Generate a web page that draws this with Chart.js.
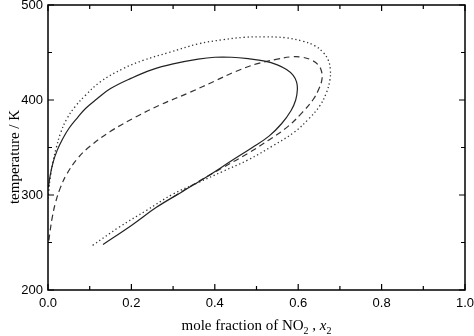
<!DOCTYPE html>
<html>
<head>
<meta charset="utf-8">
<script src="https://cdn.jsdelivr.net/npm/chart.js@4.4.0/dist/chart.umd.min.js"></script>
<style>
  html, body { margin: 0; padding: 0; background: #fff; }
  #wrap { width: 474px; height: 336px; }
</style>
</head>
<body>
<div id="wrap"><canvas id="myChart" width="474" height="336"></canvas></div>
<script>
// phase envelopes, mole fraction x2 vs temperature (K)
const solidX = [0.132, 0.20, 0.26, 0.32, 0.38, 0.44, 0.49, 0.53, 0.56, 0.583, 0.594, 0.598, 0.596, 0.588, 0.572, 0.55, 0.52, 0.48, 0.44, 0.40, 0.36, 0.30, 0.25, 0.20, 0.15, 0.117, 0.09, 0.07, 0.05, 0.035, 0.022, 0.012, 0.005, 0.001];
const solidT = [248, 268, 287, 303, 319, 336, 350, 362, 375, 389, 400, 411, 419, 426, 432, 437, 441, 443.5, 445, 445, 443, 438, 432, 423, 412, 401, 391, 381, 370, 359, 347, 334, 320, 308];

const dashX = [0.30, 0.36, 0.42, 0.48, 0.53, 0.575, 0.61, 0.635, 0.65, 0.657, 0.656, 0.648, 0.632, 0.61, 0.585, 0.55, 0.50, 0.45, 0.40, 0.34, 0.27, 0.21, 0.15, 0.10, 0.07, 0.045, 0.03, 0.018, 0.01, 0.005, 0.002];
const dashT = [298, 314, 329, 344, 358, 372, 387, 400, 412, 422, 430, 437, 442, 445, 445.5, 443, 438, 430, 420, 408, 395, 382, 367, 351, 338, 322, 308, 292, 276, 262, 252];

const dotX = [0.107, 0.17, 0.237, 0.30, 0.36, 0.42, 0.48, 0.54, 0.59, 0.625, 0.652, 0.668, 0.676, 0.677, 0.672, 0.66, 0.64, 0.61, 0.57, 0.52, 0.47, 0.42, 0.36, 0.29, 0.23, 0.18, 0.125, 0.09, 0.065, 0.045, 0.03, 0.02, 0.012, 0.006, 0.002, 0.0];
const dotT = [247, 266, 284, 301, 313, 325, 337, 352, 366, 380, 394, 408, 421, 432, 442, 450, 457, 462, 465.5, 466.5, 466, 463.5, 459, 450, 442, 433, 419, 405, 393, 380, 365, 350, 335, 320, 305, 295];

const xMajor = [0, 0.2, 0.4, 0.6, 0.8, 1.0];
const xMinor = [0.1, 0.3, 0.5, 0.7, 0.9];
const yMajor = [200, 300, 400, 500];
const yMinor = [250, 350, 450];

function pts(xs, ys) {
    return xs.map((v, i) => ({ x: v, y: ys[i] }));
}

// frame, inward ticks on all sides, and the two axis titles
const framePlugin = {
    id: 'frame',
    afterDraw(chart) {
        const ctx = chart.ctx;
        const { left, right, top, bottom } = chart.chartArea;
        const sx = chart.scales.x, sy = chart.scales.y;
        ctx.save();
        ctx.strokeStyle = '#000';
        ctx.lineWidth = 1.5;
        ctx.strokeRect(left, top, right - left, bottom - top);
        ctx.lineWidth = 1.2;
        ctx.beginPath();
        const tick = (vals, len) => {
            vals.forEach(v => {
                const px = sx.getPixelForValue(v);
                ctx.moveTo(px, bottom); ctx.lineTo(px, bottom - len);
                ctx.moveTo(px, top); ctx.lineTo(px, top + len);
            });
        };
        const ytick = (vals, len) => {
            vals.forEach(v => {
                const py = sy.getPixelForValue(v);
                ctx.moveTo(left, py); ctx.lineTo(left + len, py);
                ctx.moveTo(right, py); ctx.lineTo(right - len, py);
            });
        };
        tick(xMajor, 6); tick(xMinor, 4);
        ytick(yMajor, 6); ytick(yMinor, 4);
        ctx.stroke();

        // y title
        ctx.fillStyle = '#000';
        ctx.font = '15px "Liberation Serif", "Times New Roman", serif';
        ctx.textAlign = 'center';
        ctx.textBaseline = 'middle';
        ctx.save();
        ctx.translate(15, 157);
        ctx.rotate(-Math.PI / 2);
        ctx.fillText('temperature / K', 0, 0);
        ctx.restore();

        // x title with subscripts and italic x
        const base = 330;
        const reg = '15px "Liberation Serif", "Times New Roman", serif';
        const ita = 'italic 15px "Liberation Serif", "Times New Roman", serif';
        const sub = '10px "Liberation Serif", "Times New Roman", serif';
        const parts = [
            [reg, 'mole fraction of NO', 0],
            [sub, '2', 4],
            [reg, ' , ', 0],
            [ita, 'x', 0],
            [sub, '2', 4]
        ];
        let w = 0;
        parts.forEach(p => { ctx.font = p[0]; w += ctx.measureText(p[1]).width; });
        let cx = (left + right) / 2 - w / 2;
        ctx.textAlign = 'left';
        ctx.textBaseline = 'alphabetic';
        parts.forEach(p => {
            ctx.font = p[0];
            ctx.fillText(p[1], cx, base + p[2]);
            cx += ctx.measureText(p[1]).width;
        });
        ctx.restore();
    }
};

const tickFont = { family: '"Liberation Sans", Arial, sans-serif', size: 13 };

const ctx = document.getElementById('myChart').getContext('2d');
const chart = new Chart(ctx, {
    type: 'scatter',
    data: {
        datasets: [
            {
                data: pts(solidX, solidT),
                showLine: true,
                borderColor: '#222',
                borderWidth: 1.2,
                pointRadius: 0,
                tension: 0.4
            },
            {
                data: pts(dashX, dashT),
                showLine: true,
                borderColor: '#333',
                borderWidth: 1.2,
                borderDash: [6, 4],
                pointRadius: 0,
                tension: 0.4
            },
            {
                data: pts(dotX, dotT),
                showLine: true,
                borderColor: '#333',
                borderWidth: 1.3,
                borderDash: [1.3, 2.7],
                pointRadius: 0,
                tension: 0.4
            }
        ]
    },
    options: {
        responsive: false,
        animation: false,
        layout: { padding: { left: 0, top: 5, right: 9, bottom: 0 } },
        plugins: {
            legend: { display: false },
            tooltip: { enabled: false }
        },
        scales: {
            x: {
                type: 'linear',
                min: 0,
                max: 1,
                grid: { display: false, drawTicks: false },
                border: { display: false },
                ticks: {
                    stepSize: 0.2,
                    padding: 6,
                    color: '#000',
                    font: tickFont,
                    maxRotation: 0,
                    callback: v => v.toFixed(1)
                },
                afterFit: s => { s.height = 46; s.paddingLeft = 0; s.paddingRight = 0; }
            },
            y: {
                type: 'linear',
                min: 200,
                max: 500,
                grid: { display: false, drawTicks: false },
                border: { display: false },
                ticks: {
                    stepSize: 100,
                    padding: 5,
                    color: '#000',
                    font: tickFont
                },
                afterFit: s => { s.width = 48; s.paddingTop = 0; s.paddingBottom = 0; }
            }
        }
    },
    plugins: [framePlugin]
});
</script>
</body>
</html>
